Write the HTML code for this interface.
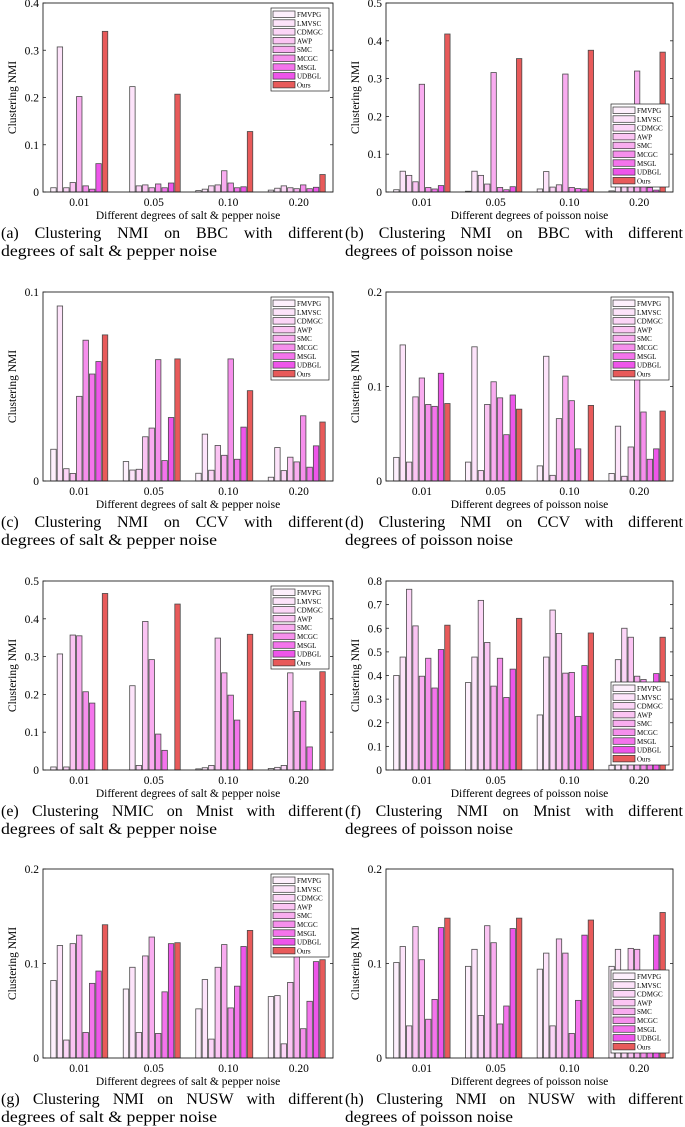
<!DOCTYPE html>
<html><head><meta charset="utf-8">
<style>
html,body{margin:0;padding:0;background:#fff;}
svg{display:block;}
text{font-family:"Liberation Serif","DejaVu Serif",serif;fill:#000;}
</style></head>
<body>
<svg id="fig" width="685" height="1127" viewBox="0 0 685 1127" xmlns="http://www.w3.org/2000/svg"></svg>
<script>
const methods = ["FMVPG","LMVSC","CDMGC","AWP","SMC","MCGC","MSGL","UDBGL","Ours"];
const colors = ["#fdeffc","#fde3fa","#fcd5f7","#fbc4f3","#f9acf0","#f68fec","#f474ec","#ee55ea","#e85a5a"];
const noiseLevels = ["0.01","0.05","0.10","0.20"];

const valsA = [[.009,.307,.009,.020,.202,.013,.006,.060,.340],[0,.223,.013,.015,.009,.017,.009,.019,.207],[.003,.006,.013,.015,.045,.019,.009,.011,.128],[.004,.008,.013,.009,.007,.015,.007,.010,.037]];
const valsB = [[.006,.055,.044,.027,.285,.012,.008,.017,.418],[.002,.055,.044,.021,.316,.012,.006,.014,.353],[.008,.054,.013,.019,.312,.012,.009,.008,.375],[.003,.020,.020,.020,.320,.015,.012,.005,.370]];
const valsC = [[.0168,.0926,.0065,.004,.0448,.0745,.0566,.0632,.0773],[.0103,.0058,.0062,.0234,.028,.0642,.0108,.0336,.0646],[.0041,.0248,.0057,.0188,.0136,.0646,.0115,.0285,.0478],[.002,.0177,.0055,.0126,.0101,.0345,.0073,.0186,.0312]];
const valsD = [[.025,.144,.020,.089,.109,.081,.079,.114,.082],[.020,.142,.011,.081,.105,.088,.049,.091,.076],[.016,.132,.006,.066,.111,.085,.034,0,.080],[.008,.058,.005,.036,.110,.073,.023,.034,.074]];
const valsE = [[.008,.307,.008,.357,.355,.207,.177,0,.467],[0,.223,.012,.393,.292,.095,.052,0,.439],[.003,.006,.012,.349,.257,.198,.132,0,.359],[.004,.007,.012,.257,.155,.182,.061,0,.260]];
const valsF = [[.40,.478,.765,.61,.397,.473,.347,.51,.613],[.37,.478,.718,.54,.355,.473,.307,.427,.642],[.233,.478,.677,.578,.41,.413,.227,.442,.58],[.02,.467,.60,.562,.397,.383,.30,.408,.562]];
const valsG = [[.082,.119,.019,.121,.130,.027,.079,.092,.141],[.073,.096,.027,.108,.128,.026,.070,.121,.122],[.052,.083,.020,.096,.120,.053,.076,.118,.135],[.065,.066,.015,.080,.110,.031,.060,.102,.104]];
const valsH = [[.101,.118,.034,.139,.104,.041,.062,.138,.148],[.097,.115,.045,.140,.122,.036,.055,.137,.148],[.094,.111,.034,.126,.111,.026,.061,.130,.146],[.097,.115,.030,.116,.115,.030,.060,.130,.154]];

const ticksA=[0,.1,.2,.3,.4], ticksB=[0,.1,.2,.3,.4,.5], ticksC=[0,.1], ticksD=[0,.1,.2], ticksE=[0,.1,.2,.3,.4,.5], ticksF=[0,.1,.2,.3,.4,.5,.6,.7,.8], ticksG=[0,.1,.2], ticksH=[0,.1,.2];

const SP="Different degrees of salt & pepper noise", PO="Different degrees of poisson noise";
const panels = [
 {id:"a",col:0,row:0,vals:valsA,ticks:ticksA,leg:"top",xt:SP,c1:"(a) Clustering NMI on BBC with different",c2:"degrees of salt & pepper noise"},
 {id:"b",col:1,row:0,vals:valsB,ticks:ticksB,leg:"bottom",xt:PO,c1:"(b) Clustering NMI on BBC with different",c2:"degrees of poisson noise"},
 {id:"c",col:0,row:1,vals:valsC,ticks:ticksC,leg:"top",xt:SP,c1:"(c) Clustering NMI on CCV with different",c2:"degrees of salt & pepper noise"},
 {id:"d",col:1,row:1,vals:valsD,ticks:ticksD,leg:"top",xt:PO,c1:"(d) Clustering NMI on CCV with different",c2:"degrees of poisson noise"},
 {id:"e",col:0,row:2,vals:valsE,ticks:ticksE,leg:"top",xt:SP,c1:"(e) Clustering NMIC on Mnist with different",c2:"degrees of salt & pepper noise"},
 {id:"f",col:1,row:2,vals:valsF,ticks:ticksF,leg:"bottom",xt:PO,c1:"(f) Clustering NMI on Mnist with different",c2:"degrees of poisson noise"},
 {id:"g",col:0,row:3,vals:valsG,ticks:ticksG,leg:"top",xt:SP,c1:"(g) Clustering NMI on NUSW with different",c2:"degrees of salt & pepper noise"},
 {id:"h",col:1,row:3,vals:valsH,ticks:ticksH,leg:"bottom",xt:PO,c1:"(h) Clustering NMI on NUSW with different",c2:"degrees of poisson noise"}
];

const NS="http://www.w3.org/2000/svg";
const svg=document.getElementById("fig");
function mk(tag,attrs,parent){const e=document.createElementNS(NS,tag);for(const k in attrs)e.setAttribute(k,attrs[k]);(parent||svg).appendChild(e);return e;}
function justify(t,target){
  const n=t.textContent.split(" ").length-1;
  const w=t.getComputedTextLength();
  if(n>0) t.setAttribute("word-spacing",((target-w)/n).toFixed(2));
}

const colX=[[43,333],[386,673]];
const rowTop=[3,292,581,869];
const H=189;

panels.forEach(p=>{
  const g=mk("g",{});
  
  
  const x0=colX[p.col][0], x1=colX[p.col][1], y0=rowTop[p.row], y1=y0+H;
  const ymax=p.ticks[p.ticks.length-1];
  const ys=v=>y1-(v/ymax)*H;
  const unit=(x1-x0)/4;
  const xc=i=>x0+unit*(i+0.5);
  const bw=unit*0.8/9;
  mk("rect",{x:x0,y:y0,width:x1-x0,height:H,fill:"#fff",stroke:"none"},g);
  p.vals.forEach((grp,gi)=>{
    grp.forEach((v,si)=>{
      const bx=xc(gi)-unit*0.4+si*bw;
      const r=mk("rect",{x:(bx+0.5).toFixed(2),y:ys(v).toFixed(2),width:(bw-1).toFixed(2),height:(y1-ys(v)).toFixed(2),fill:colors[si],stroke:"#4a4a4a","stroke-width":0.8},g);
      
      
    });
  });
  const frame=mk("rect",{x:x0,y:y0,width:x1-x0,height:H,fill:"none",stroke:"#222","stroke-width":0.9},g);
  
  
  p.ticks.forEach(t=>{
    const y=ys(t);
    mk("line",{x1:x0,x2:x0+3,y1:y,y2:y,stroke:"#222","stroke-width":0.8},g);
    mk("line",{x1:x1,x2:x1-3,y1:y,y2:y,stroke:"#222","stroke-width":0.8},g);
    const tl=mk("text",{x:x0-4,y:y+4,"font-size":11.5,"text-anchor":"end"},g);
    tl.textContent=t===0?"0":t.toFixed(1);
    
    
  });
  noiseLevels.forEach((l,i)=>{
    const tl=mk("text",{x:xc(i)+(i===3?2:i*2),y:y1+14,"font-size":11.5,"text-anchor":"middle"},g);
    tl.textContent=l;
    
    
  });
  const yt=mk("text",{x:0,y:0,"font-size":11.5,"text-anchor":"middle",transform:`translate(${x0-27},${(y0+y1)/2}) rotate(-90)`},g);
  yt.textContent="Clustering NMI";
  
  
  const xt=mk("text",{x:(x0+x1)/2,y:y1+27,"font-size":11.5,"text-anchor":"middle"},g);
  xt.textContent=p.xt;
  
  
  const lw=58, lh=83;
  const lx=x1-lw-4, ly=p.leg==="top"?y0+5:y1-lh-5;
  const lg=mk("g",{},g);
  
  
  mk("rect",{x:lx,y:ly,width:lw,height:lh,fill:"#fff",stroke:"#222","stroke-width":0.7},lg);
  methods.forEach((m,i)=>{
    const ey=ly+3+i*8.8;
    const sw=mk("rect",{x:lx+2,y:ey,width:22,height:6.5,fill:colors[i],stroke:"#333","stroke-width":0.7},lg);
    
    
    const lt=mk("text",{x:lx+26,y:ey+6,"font-size":7},lg);
    lt.textContent=m;
    
    
  });
  const cx=p.col===0?1:345;
  const c1=mk("text",{x:cx,y:y1+46,"font-size":16},g);
  c1.textContent=p.c1;
  
  
  justify(c1,p.col===0?342:338);
  const c2=mk("text",{x:cx,y:y1+64,"font-size":16,textLength:p.col===0?216:168,lengthAdjust:"spacingAndGlyphs"},g);
  c2.textContent=p.c2;
  
  
});
</script>
</body></html>
